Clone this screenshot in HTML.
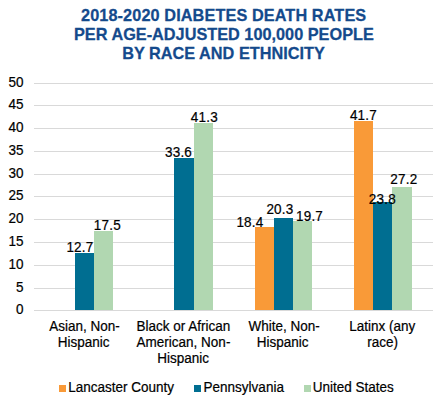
<!DOCTYPE html>
<html><head><meta charset="utf-8"><style>
html,body{margin:0;padding:0;background:#fff;}
body{width:440px;height:402px;position:relative;overflow:hidden;font-family:"Liberation Sans",sans-serif;color:#000;}
.x{position:absolute;white-space:nowrap;font-size:13.5px;line-height:16px;transform:scaleY(1.08);transform-origin:0 0;-webkit-text-stroke:0.2px #000;}
.t{position:absolute;white-space:nowrap;font-weight:bold;font-size:16.3px;line-height:19px;color:#144A8C;transform:scaleY(1.05);transform-origin:0 0;-webkit-text-stroke:0.25px #144A8C;}
.g{position:absolute;left:34px;width:399px;height:1px;background:#D9D9D9;}
.b{position:absolute;}
.s{position:absolute;width:7px;height:7px;}
</style></head><body>
<div class="g" style="top:83px"></div>
<div class="g" style="top:105px"></div>
<div class="g" style="top:128px"></div>
<div class="g" style="top:151px"></div>
<div class="g" style="top:174px"></div>
<div class="g" style="top:196px"></div>
<div class="g" style="top:219px"></div>
<div class="g" style="top:242px"></div>
<div class="g" style="top:265px"></div>
<div class="g" style="top:288px"></div>
<div class="g" style="top:310px"></div>
<div class="b" style="left:75px;width:19px;top:253px;height:57px;background:#006E91"></div>
<div class="b" style="left:94px;width:19px;top:231px;height:79px;background:#B1D7B1"></div>
<div class="b" style="left:174px;width:20px;top:158px;height:152px;background:#006E91"></div>
<div class="b" style="left:194px;width:19px;top:123px;height:187px;background:#B1D7B1"></div>
<div class="b" style="left:255px;width:19px;top:227px;height:83px;background:#F99A38"></div>
<div class="b" style="left:274px;width:19px;top:218px;height:92px;background:#006E91"></div>
<div class="b" style="left:293px;width:19px;top:221px;height:89px;background:#B1D7B1"></div>
<div class="b" style="left:354px;width:19px;top:121px;height:189px;background:#F99A38"></div>
<div class="b" style="left:373px;width:19px;top:202px;height:108px;background:#006E91"></div>
<div class="b" style="left:392px;width:20px;top:187px;height:123px;background:#B1D7B1"></div>
<div class="t" style="left:81.00px;top:5.40px;letter-spacing:0.09px">2018-2020 DIABETES DEATH RATES</div>
<div class="t" style="left:74.00px;top:24.00px;letter-spacing:0px">PER AGE-ADJUSTED 100,000 PEOPLE</div>
<div class="t" style="left:122.20px;top:43.00px;letter-spacing:0px">BY RACE AND ETHNICITY</div>
<div class="x" style="left:0;width:23.60px;text-align:right;top:73.50px">50</div>
<div class="x" style="left:0;width:23.60px;text-align:right;top:95.50px">45</div>
<div class="x" style="left:0;width:23.60px;text-align:right;top:118.50px">40</div>
<div class="x" style="left:0;width:23.60px;text-align:right;top:141.50px">35</div>
<div class="x" style="left:0;width:23.60px;text-align:right;top:164.50px">30</div>
<div class="x" style="left:0;width:23.60px;text-align:right;top:186.50px">25</div>
<div class="x" style="left:0;width:23.60px;text-align:right;top:209.50px">20</div>
<div class="x" style="left:0;width:23.60px;text-align:right;top:232.50px">15</div>
<div class="x" style="left:0;width:23.60px;text-align:right;top:255.50px">10</div>
<div class="x" style="left:0;width:23.60px;text-align:right;top:278.50px">5</div>
<div class="x" style="left:0;width:23.60px;text-align:right;top:300.50px">0</div>
<div class="x" style="left:66.40px;top:238.60px;letter-spacing:0.2px">12.7</div>
<div class="x" style="left:93.80px;top:217.40px;letter-spacing:0.2px">17.5</div>
<div class="x" style="left:165.00px;top:143.60px;letter-spacing:0.2px">33.6</div>
<div class="x" style="left:190.80px;top:108.60px;letter-spacing:0.2px">41.3</div>
<div class="x" style="left:236.40px;top:213.80px;letter-spacing:0.2px">18.4</div>
<div class="x" style="left:266.40px;top:201.20px;letter-spacing:0.2px">20.3</div>
<div class="x" style="left:296.00px;top:207.80px;letter-spacing:0.2px">19.7</div>
<div class="x" style="left:349.90px;top:106.80px;letter-spacing:0.2px">41.7</div>
<div class="x" style="left:368.80px;top:190.80px;letter-spacing:0.2px">23.8</div>
<div class="x" style="left:390.30px;top:171.20px;letter-spacing:0.2px">27.2</div>
<div class="x" style="left:49.20px;top:318.20px">Asian, Non-</div>
<div class="x" style="left:57.80px;top:333.60px">Hispanic</div>
<div class="x" style="left:136.40px;top:318.20px">Black or African</div>
<div class="x" style="left:136.60px;top:333.80px">American, Non-</div>
<div class="x" style="left:157.20px;top:349.60px">Hispanic</div>
<div class="x" style="left:248.40px;top:318.20px">White, Non-</div>
<div class="x" style="left:256.80px;top:333.60px">Hispanic</div>
<div class="x" style="left:349.20px;top:318.20px">Latinx (any</div>
<div class="x" style="left:367.20px;top:333.60px">race)</div>
<div class="s" style="left:59px;top:385px;background:#F99A38"></div>
<div class="x" style="left:68.20px;top:378.60px">Lancaster County</div>
<div class="s" style="left:194px;top:385px;background:#006E91"></div>
<div class="x" style="left:203.60px;top:378.60px">Pennsylvania</div>
<div class="s" style="left:304px;top:385px;background:#B1D7B1"></div>
<div class="x" style="left:312.80px;top:378.60px">United States</div>
</body></html>
